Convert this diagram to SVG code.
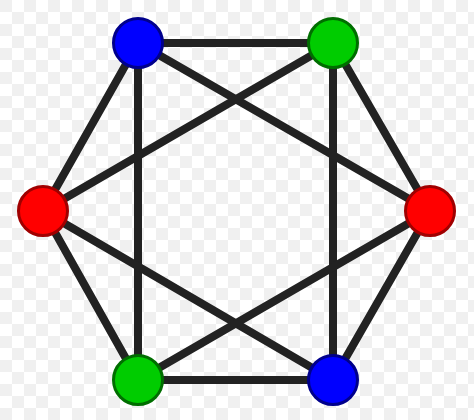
<svg xmlns="http://www.w3.org/2000/svg" width="474" height="420" viewBox="0 0 474 420">
<defs>
<pattern id="chk" width="24" height="24" patternUnits="userSpaceOnUse">
<rect width="24" height="24" fill="#ffffff"/>
<rect width="12" height="12" fill="#f0f0f0"/>
<rect x="12" y="12" width="12" height="12" fill="#f0f0f0"/>
</pattern>
<style>
.e{stroke:#222222;stroke-width:8;stroke-linecap:round;fill:none}
.n{stroke-width:3}
.blue{fill:#0000ff;stroke:#00008c}
.green{fill:#00cc00;stroke:#006e00}
.red{fill:#ff0000;stroke:#a00000}
</style>
</defs>
<rect width="474" height="420" fill="url(#chk)"/>
<g id="edges">
<line class="e" x1="138" y1="43" x2="333" y2="43"/>
<line class="e" x1="333" y1="43" x2="430" y2="211"/>
<line class="e" x1="430" y1="211" x2="333" y2="380"/>
<line class="e" x1="333" y1="380" x2="138" y2="380"/>
<line class="e" x1="138" y1="380" x2="43" y2="211"/>
<line class="e" x1="43" y1="211" x2="138" y2="43"/>
<line class="e" x1="138" y1="43" x2="138" y2="380"/>
<line class="e" x1="333" y1="43" x2="333" y2="380"/>
<line class="e" x1="138" y1="43" x2="430" y2="211"/>
<line class="e" x1="333" y1="43" x2="43" y2="211"/>
<line class="e" x1="43" y1="211" x2="333" y2="380"/>
<line class="e" x1="430" y1="211" x2="138" y2="380"/>
</g>
<g id="node-top-left"><circle class="n blue" cx="138" cy="43" r="24.5"/></g>
<g id="node-top-right"><circle class="n green" cx="333" cy="43" r="24.5"/></g>
<g id="node-left"><circle class="n red" cx="43" cy="211" r="24.5"/></g>
<g id="node-right"><circle class="n red" cx="430" cy="211" r="24.5"/></g>
<g id="node-bottom-left"><circle class="n green" cx="138" cy="380" r="24.5"/></g>
<g id="node-bottom-right"><circle class="n blue" cx="333" cy="380" r="24.5"/></g>
</svg>
